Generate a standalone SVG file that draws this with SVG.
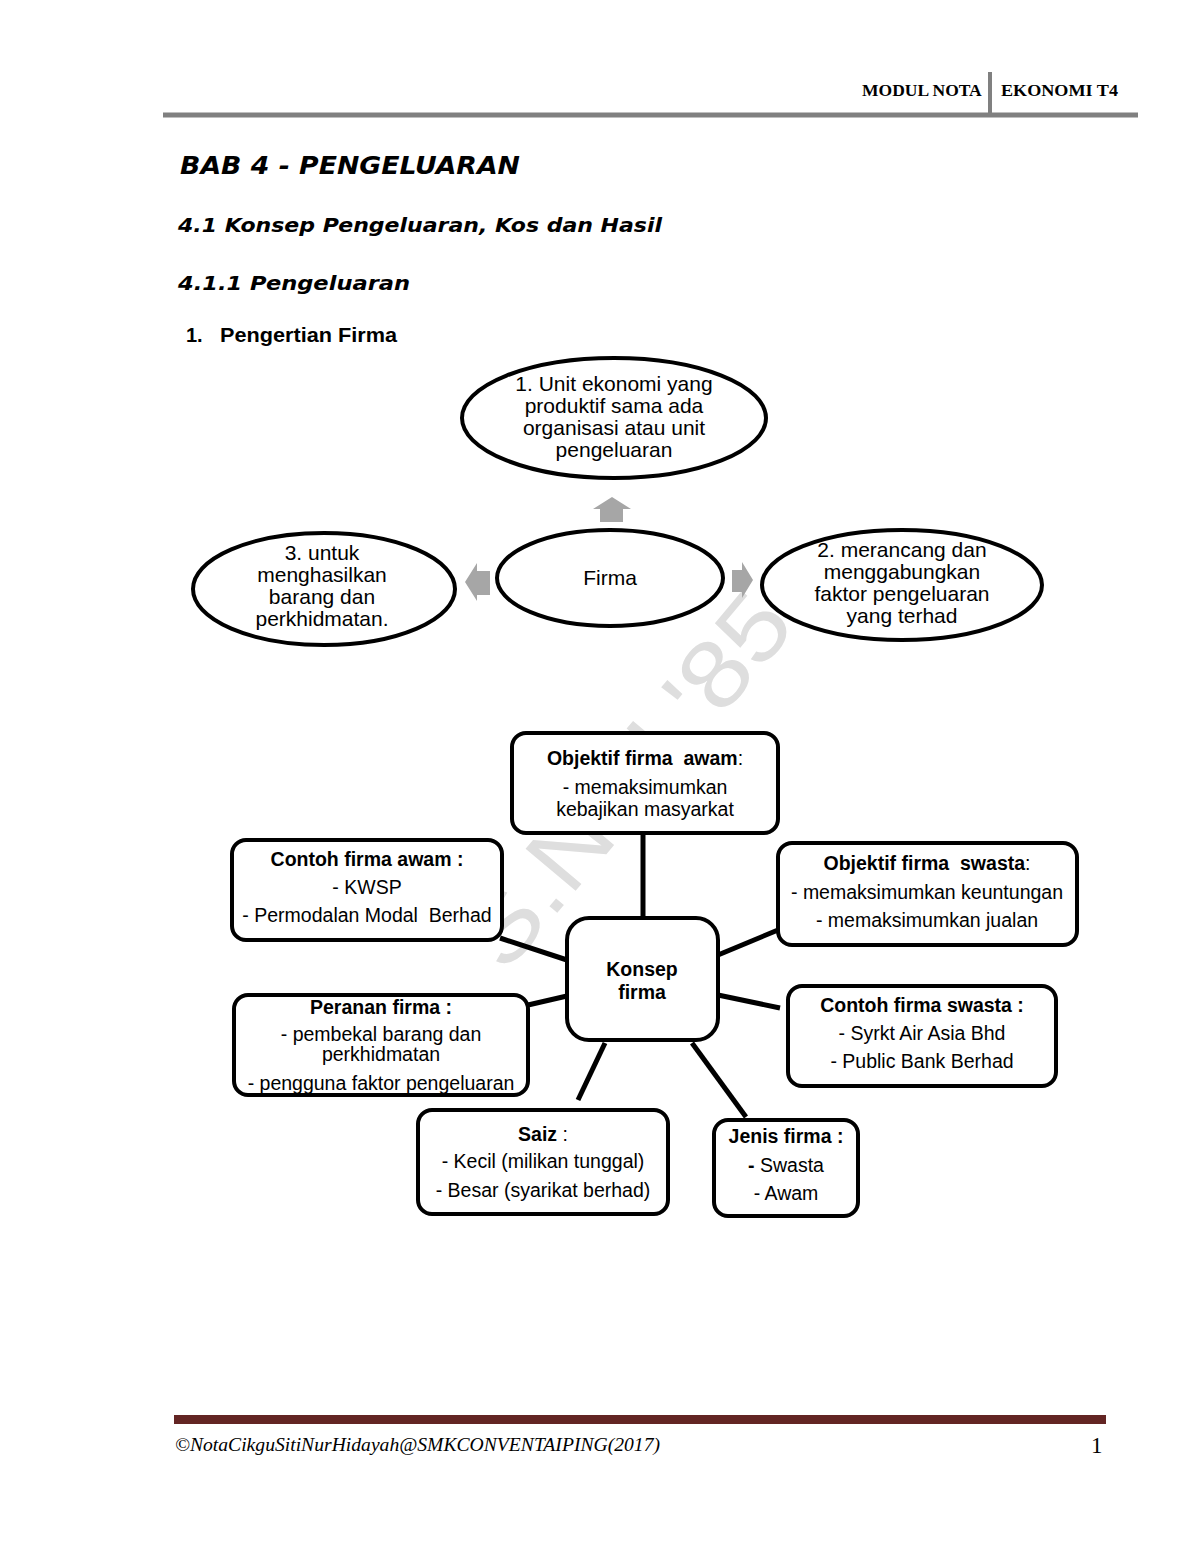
<svg xmlns="http://www.w3.org/2000/svg" width="1200" height="1553" viewBox="0 0 1200 1553">
<style>
.hdr{font-family:"Liberation Serif",serif;font-weight:bold;font-size:17.5px;fill:#000}
.ttl{font-family:"DejaVu Sans","Liberation Sans",sans-serif;font-style:italic;font-weight:bold;fill:#000}
.t{font-family:"Liberation Sans",Arial,sans-serif;font-size:19.5px;fill:#000;text-anchor:middle}
.e{font-family:"Liberation Sans",Arial,sans-serif;font-size:21px;fill:#000;text-anchor:middle}
.b{font-weight:bold}
.ell{fill:#fff;stroke:#000;stroke-width:4}
.box{fill:#fff;stroke:#000;stroke-width:4}
.arr{fill:#a6a6a6}
.con{stroke:#000;stroke-width:5;fill:none}
.wm{font-family:"Liberation Sans",sans-serif;font-size:95px;fill:#dedede}
</style>
<rect width="1200" height="1553" fill="#fff"/>
<g id="watermark">
<text class="wm" transform="translate(505,975) rotate(-50)" textLength="455" lengthAdjust="spacingAndGlyphs">S.N.H '85</text>
</g>
<g id="header">
<text class="hdr" x="862" y="96">MODUL NOTA</text>
<line x1="990" y1="72" x2="990" y2="113" stroke="#808080" stroke-width="4"/>
<text class="hdr" x="1001" y="96" textLength="117" lengthAdjust="spacingAndGlyphs">EKONOMI T4</text>
<line x1="163" y1="115" x2="1138" y2="115" stroke="#808080" stroke-width="5"/>
</g>
<g id="titles">
<text class="ttl" x="180" y="174" font-size="25" textLength="340" lengthAdjust="spacingAndGlyphs">BAB 4 - PENGELUARAN</text>
<text class="ttl" x="178" y="232" font-size="20" textLength="484" lengthAdjust="spacingAndGlyphs">4.1 Konsep Pengeluaran, Kos dan Hasil</text>
<text class="ttl" x="178" y="290" font-size="20" textLength="232" lengthAdjust="spacingAndGlyphs">4.1.1 Pengeluaran</text>
<text x="186" y="342" font-family="Liberation Sans,Arial,sans-serif" font-weight="bold" font-size="20">1.</text>
<text x="220" y="342" font-family="Liberation Sans,Arial,sans-serif" font-weight="bold" font-size="20" textLength="177" lengthAdjust="spacingAndGlyphs">Pengertian Firma</text>
</g>
<g id="arrows-gray">
<polygon class="arr" points="612,497 631,509 623,509 623,522 600,522 600,509 593,509"/>
<polygon class="arr" points="465,582 477,563 477,571 490,571 490,595 477,595 477,601"/>
<polygon class="arr" points="753,580 742,562 742,570 732,570 732,592 742,592 742,598"/>
</g>
<g id="ell-unit">
<ellipse class="ell" cx="614" cy="418" rx="152" ry="60"/>
<text class="e"><tspan x="614" y="391">1. Unit ekonomi yang</tspan><tspan x="614" y="413">produktif sama ada</tspan><tspan x="614" y="435">organisasi atau unit</tspan><tspan x="614" y="457">pengeluaran</tspan></text>
</g>
<g id="ell-firma">
<ellipse class="ell" cx="610" cy="578" rx="113" ry="48"/>
<text class="e" x="610" y="585">Firma</text>
</g>
<g id="ell-untuk">
<ellipse class="ell" cx="324" cy="589" rx="131" ry="56"/>
<text class="e"><tspan x="322" y="560">3. untuk</tspan><tspan x="322" y="582">menghasilkan</tspan><tspan x="322" y="604">barang dan</tspan><tspan x="322" y="626">perkhidmatan.</tspan></text>
</g>
<g id="ell-merancang">
<ellipse class="ell" cx="902" cy="585" rx="140" ry="55"/>
<text class="e"><tspan x="902" y="557">2. merancang dan</tspan><tspan x="902" y="579">menggabungkan</tspan><tspan x="902" y="601">faktor pengeluaran</tspan><tspan x="902" y="623">yang terhad</tspan></text>
</g>
<g id="connectors">
<line class="con" x1="643" y1="833" x2="643" y2="918"/>
<line class="con" x1="500" y1="938" x2="567" y2="960"/>
<line class="con" x1="778" y1="930" x2="718" y2="955"/>
<line class="con" x1="528" y1="1005" x2="567" y2="996"/>
<line class="con" x1="718" y1="995" x2="780" y2="1008"/>
<line class="con" x1="605" y1="1043" x2="578" y2="1100"/>
<line class="con" x1="692" y1="1043" x2="746" y2="1117"/>
</g>
<g id="box-objektif-awam">
<rect class="box" x="512" y="733" width="266" height="100" rx="14"/>
<text class="t" xml:space="preserve"><tspan x="645" y="765" class="b">Objektif firma  awam<tspan font-weight="normal">:</tspan></tspan><tspan x="645" y="794">- memaksimumkan</tspan><tspan x="645" y="816">kebajikan masyarkat</tspan></text>
</g>
<g id="box-contoh-awam">
<rect class="box" x="232" y="840" width="270" height="100" rx="14"/>
<text class="t" xml:space="preserve"><tspan x="367" y="866" class="b">Contoh firma awam :</tspan><tspan x="367" y="894">- KWSP</tspan><tspan x="367" y="922">- Permodalan Modal  Berhad</tspan></text>
</g>
<g id="box-objektif-swasta">
<rect class="box" x="778" y="843" width="299" height="102" rx="14"/>
<text class="t" xml:space="preserve"><tspan x="927" y="870" class="b">Objektif firma  swasta<tspan font-weight="normal">:</tspan></tspan><tspan x="927" y="899">- memaksimumkan keuntungan</tspan><tspan x="927" y="927">- memaksimumkan jualan</tspan></text>
</g>
<g id="box-konsep">
<rect class="box" x="567" y="918" width="151" height="122" rx="22"/>
<text class="t b" font-size="22"><tspan x="642" y="976">Konsep</tspan><tspan x="642" y="999">firma</tspan></text>
</g>
<g id="box-peranan">
<rect class="box" x="234" y="995" width="294" height="100" rx="14"/>
<text class="t"><tspan x="381" y="1014" class="b">Peranan firma :</tspan><tspan x="381" y="1041">- pembekal barang dan</tspan><tspan x="381" y="1061">perkhidmatan</tspan><tspan x="381" y="1090">- pengguna faktor pengeluaran</tspan></text>
</g>
<g id="box-contoh-swasta">
<rect class="box" x="788" y="986" width="268" height="100" rx="14"/>
<text class="t"><tspan x="922" y="1012" class="b">Contoh firma swasta :</tspan><tspan x="922" y="1040">- Syrkt Air Asia Bhd</tspan><tspan x="922" y="1068">- Public Bank Berhad</tspan></text>
</g>
<g id="box-saiz">
<rect class="box" x="418" y="1110" width="250" height="104" rx="14"/>
<text class="t"><tspan x="543" y="1141"><tspan class="b">Saiz</tspan> :</tspan><tspan x="543" y="1168">- Kecil (milikan tunggal)</tspan><tspan x="543" y="1197">- Besar (syarikat berhad)</tspan></text>
</g>
<g id="box-jenis">
<rect class="box" x="714" y="1120" width="144" height="96" rx="14"/>
<text class="t"><tspan x="786" y="1143" class="b">Jenis firma :</tspan><tspan x="786" y="1172"><tspan class="b">-</tspan> Swasta</tspan><tspan x="786" y="1200">- Awam</tspan></text>
</g>
<g id="footer">
<rect x="174" y="1415" width="932" height="9" fill="#632523"/>
<text x="175" y="1451" font-family="Liberation Serif,serif" font-style="italic" font-size="18" textLength="485" lengthAdjust="spacingAndGlyphs">©NotaCikguSitiNurHidayah@SMKCONVENTAIPING(2017)</text>
<text x="1091" y="1453" font-family="Liberation Serif,serif" font-size="23">1</text>
</g>
</svg>
